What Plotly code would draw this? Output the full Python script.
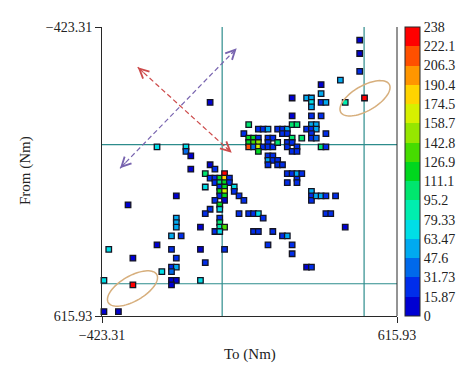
import math
import plotly.graph_objects as go

# ---------------- data ----------------
X_MIN, X_MAX = -423.31, 615.93
Y_MIN, Y_MAX = -423.31, 615.93
TO_BIN, TO_OFFSET = 17.0, 8.5        # bin width / centre offset along "To" (Nm)
FROM_BIN, FROM_OFFSET = 16.0, 24.0   # bin width / centre offset along "From" (Nm)

# grid cell index along "To" (x), along "From" (y), and the count in the cell
to_idx = [
    -3, -14, -8, -8, -7, -7, -3, -2,
    -4, 0, -3, -2, -1, 0, 1, -2, -1, 0, 1, -4, -1, 0, 2, -1, 0, 2, -1, 0, 3,
    -2, 0, 4, -1, -3, -1, -4, 3, 5, 6, 7, -1, 8, -1, -5, -1, 0, -2, -1, 6, 7, 10,
    -9, -11, 12, 13, 9, 14, -14, -24, -11, -5, 0, 14, -19, -10, -4, 17, 18,
    -11, -10, -11, -13, -11, -10, -11, -5, -25, -19, -25, -22, -20, -10,
    -10, -10, -10, 25, 21, 22, 13, 15, 15, 18, 18, 18, 19, 20, 21, 23,
    13, 14, 15, 16,
    28, 28, 28, 24, 20, 20, 14, 17, 18, 18, 18, 20, 21, 25, 29, 14, 18, 20,
    18, 19, 4, 5, 7, 8, 9, 11, 12, 13, 14, 15, 17, 18, 19, 21,
    5, 6, 7, 9, 10, 12, 13, 14, 16, 18, 18, 19,
    5, 6, 7, 5, 6, 7, 8, 9, 9, 10, 11, 13, 13, 14, 15, 14, 15, 7, 20, 21,
    9, 10, 9, 10, 11, 9, 11, 12,
]
from_idx = [
    -11, -1, -1, 0, 1, 4, 3, 4,
    5, 5, 6, 6, 6, 6, 6, 7, 7, 7, 7, 8, 8, 8, 8, 9, 9, 9, 10, 10, 10,
    11, 11, 11, 12, 13, 13, 14, 14, 14, 14, 14, 15, 15, 16, 17, 17, 17, 18, 18, 18, 18, 18,
    19, 19, 19, 19, 21, 21, 21, 22, 22, 22, 22, 23, 24, 24, 25, 26, 26,
    26, 26, 27, 27, 29, 29, 30, 29, 29, 30, 36, 36, 12, 10,
    15, 16, 17, 17, 14, 14, 7, 6, 7, 9, 10, 11, 10, 10, 10, 10,
    5, 5, 5, 5,
    -25, -22, -18, -16, -15, -13, -12, -12, -12, -11, -10, -11, -11, -11, -12, -8, -8, -8,
    -6, -6, -4, -6, -5, -5, -5, -5, -5, -5, -6, -6, -5, -5, -5, -4,
    -3, -3, -3, -3, -3, -4, -4, -3, -3, -4, -3, -3,
    -2, -2, -2, -1, -1, -1, -1, -2, -1, -1, -2, -2, -1, -2, -1, 0, 0, 0, -1, -1,
    1, 1, 2, 2, 2, 3, 3, 3,
]
counts = [
    8, 75, 70, 40, 10, 10, 10, 30,
    100, 228, 28, 25, 120, 185, 25, 25, 110, 125, 22, 75, 30, 120, 65, 125, 160, 25, 30, 120, 22,
    22, 10, 22, 115, 25, 70, 22, 22, 25, 30, 65, 28, 25, 110, 10, 85, 130, 25, 65, 25, 30, 25,
    25, 60, 25, 60, 25, 25, 10, 70, 25, 15, 25, 25, 10, 25, 20, 15, 22,
    30, 60, 35, 75, 10, 10, 15, 75, 75, 230, 10, 15, 10, 10,
    60, 60, 60, 10, 25, 25, 25, 25, 25, 60, 25, 25, 60, 60, 25, 25,
    25, 25, 60, 25,
    10, 12, 22, 60, 10, 55, 10, 60, 55, 65, 60, 22, 55, 80, 225, 10, 22, 22,
    55, 55, 22, 110, 22, 25, 55, 25, 25, 60, 100, 110, 25, 25, 60, 25,
    115, 120, 30, 25, 25, 25, 25, 105, 110, 30, 30, 35,
    120, 130, 150, 210, 35, 165, 30, 22, 25, 30, 105, 25, 25, 25, 25, 25, 25, 115, 110, 22,
    25, 25, 60, 25, 25, 25, 25, 25,
]

# reference lines (Nm)
ref_to = [0, 500]
ref_from = [0, 500]

# colour bar
cb_ticks = [0, 15.87, 31.73, 47.6, 63.47, 79.33, 95.2, 111.1, 126.9,
            142.8, 158.7, 174.5, 190.4, 206.3, 222.1, 238]
cb_labels = ["0", "15.87", "31.73", "47.6", "63.47", "79.33", "95.2", "111.1",
             "126.9", "142.8", "158.7", "174.5", "190.4", "206.3", "222.1", "238"]
band_colors = [
    "rgb(0,0,210)", "rgb(0,45,235)", "rgb(0,105,235)", "rgb(0,170,240)",
    "rgb(0,222,230)", "rgb(0,238,175)", "rgb(0,230,110)", "rgb(0,215,30)",
    "rgb(70,220,0)", "rgb(150,230,0)", "rgb(215,240,0)", "rgb(255,212,0)",
    "rgb(255,150,0)", "rgb(255,80,0)", "rgb(255,0,0)",
]

# annotation geometry (Nm)
red_arrow = dict(x0=-297.5, y0=-278.4, x1=33.6, y1=28.7)
purple_arrow = dict(x0=-359.9, y0=84.8, x1=51.2, y1=-346.7)
ellipses = [dict(cx=503.2, cy=-166.9), dict(cx=-315.9, cy=517.1)]

# ---------------- figure ----------------
to_nm = [TO_BIN * i + TO_OFFSET for i in to_idx]
from_nm = [FROM_BIN * j + FROM_OFFSET for j in from_idx]

n = len(band_colors)
colorscale = []
for k, c in enumerate(band_colors):
    colorscale.append([k / n, c])
    colorscale.append([(k + 1) / n, c])

FONT = "Liberation Serif, Times New Roman, serif"
# the page body adds an 8px margin, so the figure is 16px smaller than the window
W, H = 458, 366
ML, MT = 94, 19
PW, PH = 295, 289
MR, MB = W - ML - PW, H - MT - PH
sx = (X_MAX - X_MIN) / PW  # Nm per px
sy = (Y_MAX - Y_MIN) / PH

fig = go.Figure()
fig.add_trace(go.Scatter(
    x=to_nm, y=from_nm, mode="markers", cliponaxis=False,
    marker=dict(
        symbol="square", size=5.5, color=counts, cmin=0, cmax=238,
        colorscale=colorscale,
        line=dict(color="rgb(20,20,35)", width=1.3),
        colorbar=dict(
            x=(303) / PW, xanchor="left", y=0.5, yanchor="middle",
            len=1.0, lenmode="fraction", thickness=15, thicknessmode="pixels",
            outlinecolor="rgb(40,40,40)", outlinewidth=1,
            tickvals=cb_ticks, ticktext=cb_labels, ticks="",
            tickfont=dict(family=FONT, size=14, color="#222"),
            xpad=0, ypad=0,
        ),
    ),
    hoverinfo="skip", showlegend=False,
))

shapes = []
teal = "rgb(45,140,140)"
for v in ref_to:
    shapes.append(dict(type="line", xref="x", yref="paper", x0=v, x1=v, y0=0, y1=1,
                       line=dict(color=teal, width=1.2), layer="below"))
for v in ref_from:
    shapes.append(dict(type="line", xref="paper", yref="y", x0=0, x1=1, y0=v, y1=v,
                       line=dict(color=teal, width=1.2), layer="below"))
# right frame line
shapes.append(dict(type="line", xref="paper", yref="paper", x0=1, x1=1, y0=0, y1=1,
                   line=dict(color="rgb(40,40,40)", width=1)))

red = "rgb(205,75,75)"
purple = "rgb(120,100,175)"
for arr, col in ((red_arrow, red), (purple_arrow, purple)):
    shapes.append(dict(type="line", xref="x", yref="y",
                       x0=arr["x0"], y0=arr["y0"], x1=arr["x1"], y1=arr["y1"],
                       line=dict(color=col, width=1.2, dash="5px,3px")))

# ellipses (drawn in pixel proportions, converted to Nm)
a_px, b_px, ang = 28.0, 12.5, math.radians(30)
for e in ellipses:
    pts = []
    for k in range(73):
        t = 2 * math.pi * k / 72
        dxp = a_px * math.cos(t) * math.cos(ang) - b_px * math.sin(t) * math.sin(ang)
        dyp = -(a_px * math.cos(t) * math.sin(ang) + b_px * math.sin(t) * math.cos(ang))
        pts.append((e["cx"] + dxp * sx, e["cy"] + dyp * sy))
    path = "M " + " L ".join(f"{px:.2f},{py:.2f}" for px, py in pts) + " Z"
    shapes.append(dict(type="path", xref="x", yref="y", path=path,
                       line=dict(color="rgb(215,175,125)", width=1.5)))

annotations = []
for arr, col in ((red_arrow, red), (purple_arrow, purple)):
    dxp = (arr["x1"] - arr["x0"]) / sx
    dyp = (arr["y1"] - arr["y0"]) / sy
    L = math.hypot(dxp, dyp)
    ux, uy = dxp / L, dyp / L
    for (tx, ty, sgn) in ((arr["x1"], arr["y1"], -1), (arr["x0"], arr["y0"], 1)):
        annotations.append(dict(
            x=tx, y=ty, xref="x", yref="y", text="", showarrow=True,
            ax=sgn * ux * 10, ay=sgn * uy * 10, axref="pixel", ayref="pixel",
            arrowhead=5, arrowsize=1.7, arrowwidth=1.1, arrowcolor=col,
        ))

annotations.append(dict(text="From (Nm)", xref="paper", yref="paper",
                        x=-77 / PW, y=145 / PH, textangle=-90,
                        xanchor="center", yanchor="middle",
                        showarrow=False, font=dict(family=FONT, size=15, color="#222")))
annotations.append(dict(text="To (Nm)", xref="paper", yref="paper",
                        x=148 / PW, y=-38 / PH,
                        xanchor="center", yanchor="middle",
                        showarrow=False, font=dict(family=FONT, size=15, color="#222")))

axis_common = dict(
    showgrid=False, zeroline=False, showline=True, linecolor="rgb(40,40,40)", linewidth=1,
    ticks="outside", ticklen=6, tickcolor="rgb(40,40,40)",
    tickfont=dict(family=FONT, size=14, color="#222"),
)
fig.update_layout(
    width=W, height=H, margin=dict(l=ML, r=MR, t=MT, b=MB, autoexpand=False),
    plot_bgcolor="white", paper_bgcolor="white",
    xaxis=dict(range=[X_MIN, X_MAX], tickvals=[X_MIN, X_MAX],
               ticktext=["\u2212423.31", "615.93"], **axis_common),
    yaxis=dict(range=[Y_MAX, Y_MIN], tickvals=[Y_MIN, Y_MAX],
               ticktext=["\u2212423.31", "615.93"], **axis_common),
    shapes=shapes, annotations=annotations,
)

fig.write_html("out.html")
